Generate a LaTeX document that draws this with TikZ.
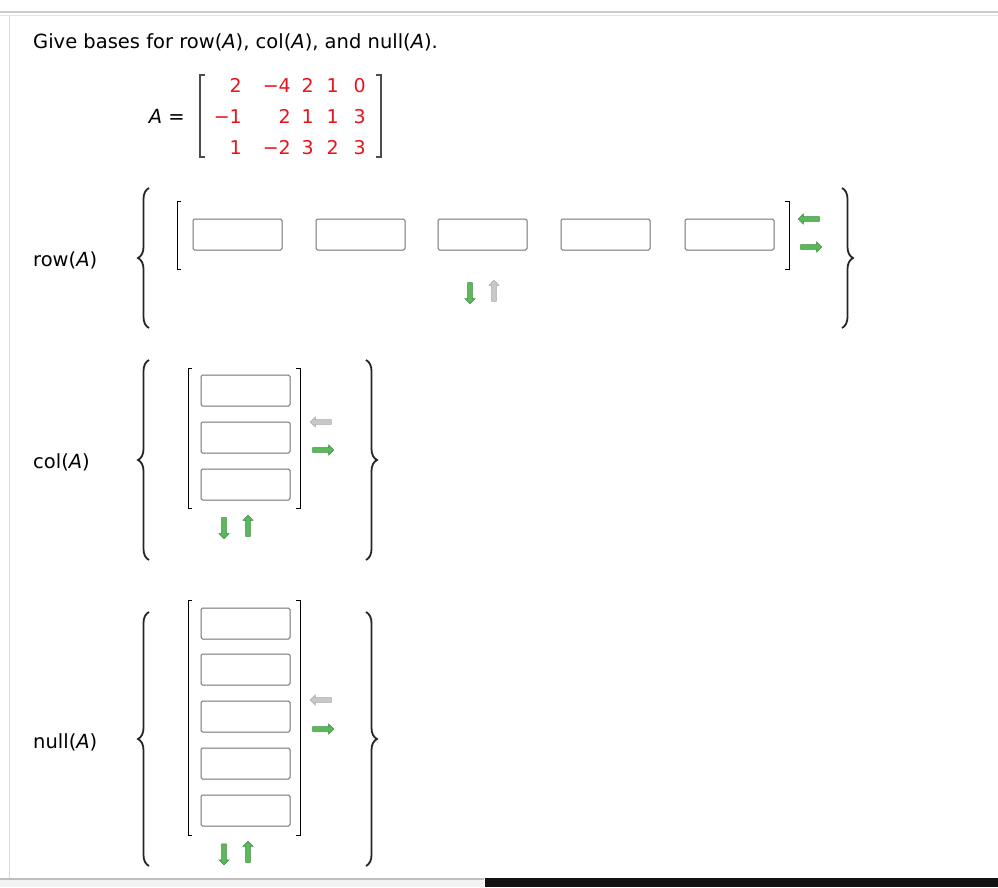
\documentclass[tikz,border=0pt]{standalone}
\usepackage{fontspec}
\setmainfont{DejaVu Sans}
\usetikzlibrary{shapes.arrows,decorations.pathreplacing}
\definecolor{redtxt}{HTML}{E8141B}
\definecolor{boxgray}{HTML}{707070}
\definecolor{agreen}{HTML}{5CB85C}
\definecolor{agreend}{HTML}{3C8A3C}
\definecolor{agray}{HTML}{C8C8C8}
\definecolor{agrayd}{HTML}{A8A8A8}
\tikzset{
  txt/.style={font=\fontsize{19.5}{22}\selectfont, inner sep=0pt, anchor=base west},
  ent/.style={font=\fontsize{19}{22}\selectfont, text=redtxt, inner sep=0pt, anchor=base east},
  inbox/.style={draw=boxgray, line width=1pt, rounded corners=1.5pt},
  brk/.style={draw=black, line width=1pt},
  mbrk/.style={draw=black!70, line width=2pt},
  bigbrace/.style={draw=black!85, line width=1.8pt, decorate, decoration={brace, amplitude=11pt}},
  arr/.style={single arrow, minimum height=21pt, minimum width=10pt, single arrow head extend=2.5pt, inner sep=2.2pt, line width=0.5pt},
  garr/.style={arr, fill=agreen, draw=agreend},
  yarr/.style={arr, fill=agray, draw=agrayd},
}
\begin{document}
\begin{tikzpicture}[x=1pt,y=-1pt]
\useasboundingbox (0,0) rectangle (998,887);
% frame
\draw[draw=black!20, line width=1.2pt] (0,12) -- (998,12);
\draw[draw=black!10, line width=1pt] (0,15.5) -- (998,15.5);
\draw[draw=black!15, line width=1pt] (9.5,16) -- (9.5,878);
\fill[black!5] (0,879) rectangle (484,887);
\draw[black!25, line width=1.5pt] (0,879) -- (484,879);
\fill[black!93] (485,878) rectangle (998,887);
% title
\node[txt] (title) at (33,48) {Give bases for row(\textit{A}), col(\textit{A}), and null(\textit{A}).};
% matrix
\node[txt, anchor=base east] (Aeq) at (185,123) {\textit{A} =};
\draw[mbrk] (205,75) -- (200,75) -- (200,157) -- (205,157);
\draw[mbrk] (376,75) -- (381,75) -- (381,157) -- (376,157);
\node[ent] (a11) at (242,92) {2};
\node[ent] (a12) at (291,92) {−4};
\node[ent] (a13) at (314,92) {2};
\node[ent] (a14) at (339,92) {1};
\node[ent] (a15) at (366,92) {0};
\node[ent] (a21) at (242,123) {−1};
\node[ent] (a22) at (291,123) {2};
\node[ent] (a23) at (314,123) {1};
\node[ent] (a24) at (339,123) {1};
\node[ent] (a25) at (366,123) {3};
\node[ent] (a31) at (242,154) {1};
\node[ent] (a32) at (291,154) {−2};
\node[ent] (a33) at (314,154) {3};
\node[ent] (a34) at (339,154) {2};
\node[ent] (a35) at (366,154) {3};
% row(A)
\node[txt] (rowlbl) at (33,266) {row(\textit{A})};
\draw[bigbrace] (149,328) -- (149,188);
\draw[bigbrace] (842,188) -- (842,328);
\draw[brk] (181,201) -- (177,201) -- (177,269) -- (181,269);
\draw[brk] (785,201) -- (789,201) -- (789,269) -- (785,269);
\foreach \x in {193,316,438,561,685}{
  \draw[inbox] (\x,219) rectangle (\x+89,250);
}
\node[garr, shape border rotate=180] (rl) at (810,219) {};
\node[garr] (rr) at (810,247) {};
\node[garr, shape border rotate=270] (rd) at (470,292) {};
\node[yarr, shape border rotate=90] (ru) at (494,292) {};
% col(A)
\node[txt] (collbl) at (33,468) {col(\textit{A})};
\draw[bigbrace] (149,560) -- (149,360);
\draw[bigbrace] (366,360) -- (366,560);
\draw[brk] (192,368) -- (188,368) -- (188,508) -- (192,508);
\draw[brk] (296,368) -- (300,368) -- (300,508) -- (296,508);
\foreach \y in {375,422,469}{
  \draw[inbox] (201,\y) rectangle (290,\y+31);
}
\node[yarr, shape border rotate=180] (cl) at (322,422) {};
\node[garr] (cr) at (322,450) {};
\node[garr, shape border rotate=270] (cd) at (224,527) {};
\node[garr, shape border rotate=90] (cu) at (248,527) {};
% null(A)
\node[txt] (nulllbl) at (33,748) {null(\textit{A})};
\draw[bigbrace] (149,866) -- (149,612);
\draw[bigbrace] (366,612) -- (366,866);
\draw[brk] (192,600) -- (188,600) -- (188,835) -- (192,835);
\draw[brk] (296,600) -- (300,600) -- (300,835) -- (296,835);
\foreach \y in {608,654,701,748,795}{
  \draw[inbox] (201,\y) rectangle (290,\y+31);
}
\node[yarr, shape border rotate=180] (nl) at (322,700) {};
\node[garr] (nr) at (322,729) {};
\node[garr, shape border rotate=270] (nd) at (224,853) {};
\node[garr, shape border rotate=90] (nu) at (248,853) {};
\end{tikzpicture}
\end{document}
